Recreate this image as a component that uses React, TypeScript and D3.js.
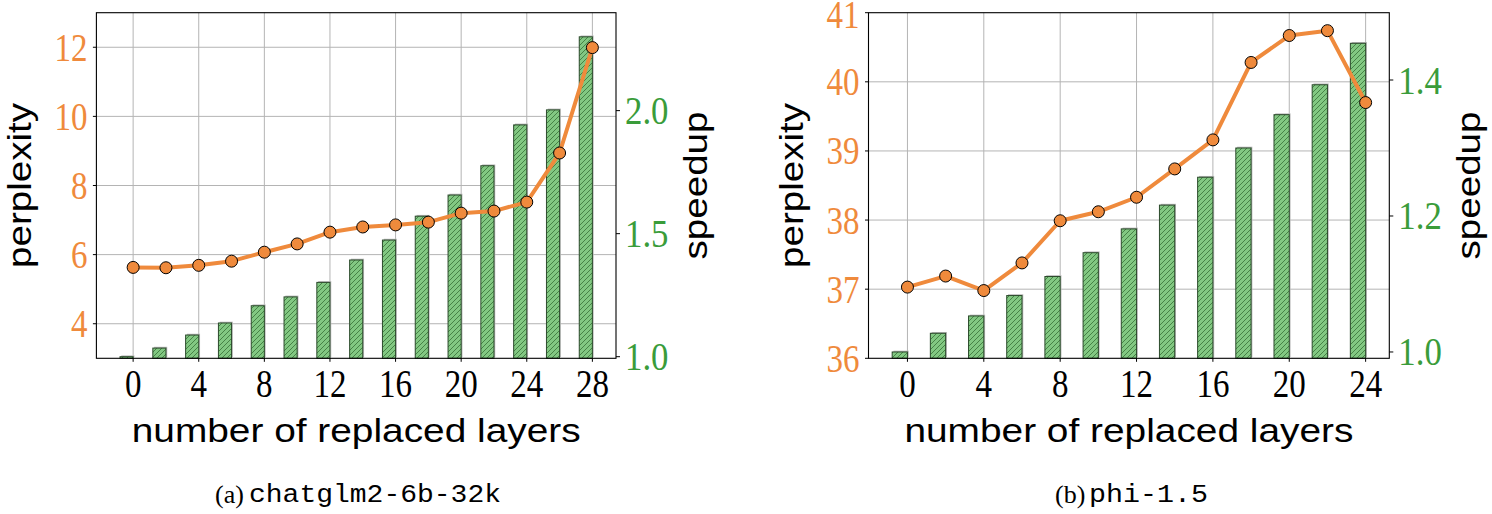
import React from "react";
import * as d3 from "d3";

// ---- data ----
const layersA = [0, 2, 4, 6, 8, 10, 12, 14, 16, 18, 20, 22, 24, 26, 28];
const perplexityA = [5.63, 5.62, 5.69, 5.81, 6.07, 6.31, 6.65, 6.8, 6.86, 6.94, 7.2, 7.26, 7.52, 8.94, 11.99];
const speedupA = [1.0, 1.035, 1.088, 1.137, 1.207, 1.243, 1.302, 1.393, 1.474, 1.571, 1.657, 1.776, 1.942, 2.003, 2.3];

const layersB = [0, 2, 4, 6, 8, 10, 12, 14, 16, 18, 20, 22, 24];
const perplexityB = [37.03, 37.19, 36.98, 37.38, 37.99, 38.12, 38.33, 38.74, 39.16, 40.28, 40.67, 40.74, 39.7];
const speedupB = [1.0, 1.0275, 1.053, 1.083, 1.111, 1.146, 1.181, 1.216, 1.257, 1.3, 1.349, 1.393, 1.454];

const xTicksA = [0, 4, 8, 12, 16, 20, 24, 28];
const pplTicksA = [4, 6, 8, 10, 12];
const spTicksA = [1.0, 1.5, 2.0];

const xTicksB = [0, 4, 8, 12, 16, 20, 24];
const pplTicksB = [36, 37, 38, 39, 40, 41];
const spTicksB = [1.0, 1.2, 1.4];

const xLabel = "number of replaced layers";
const yLabelLeft = "perplexity";
const yLabelRight = "speedup";
const captionA = ["(a)", "chatglm2-6b-32k"];
const captionB = ["(b)", "phi-1.5"];

// ---- styles ----
const ORANGE = "#ef8a3c";
const GREEN_TXT = "#3a9c3a";
const BAR_FILL = "#82c882";
const BAR_EDGE = "#2c4a2c";
const HATCH = "#3f7a3f";
const GRID = "#b4b4b4";
const SERIF = "'Liberation Serif', 'DejaVu Serif', serif";
const SANS = "'Liberation Sans', Arial, sans-serif";
const MONO = "'Liberation Mono', 'DejaVu Sans Mono', monospace";
const BAR_W = 0.8;

function numWidth(s: string) {
  let w = 0;
  for (const c of s) w += c === "." ? 10.5 : 16.5;
  return w;
}

type PanelProps = {
  id: string;
  frame: { l: number; r: number; t: number; b: number };
  layers: number[];
  ppl: number[];
  sp: number[];
  xTicks: number[];
  pplTicks: number[];
  spTicks: number[];
  pplDomain: [number, number];
  spDomain: [number, number];
  spFmt: (v: number) => string;
  caption: string[];
  captionX: number;
  monoLen: number;
};

function Panel(p: PanelProps) {
  const { frame } = p;
  const lo = (d3.min(p.layers) as number) - BAR_W;
  const hi = d3.max(p.layers) as number;
  const pad = (hi - lo) * 0.05;
  const x = d3.scaleLinear().domain([lo - pad, hi + pad]).range([frame.l, frame.r]);
  const yL = d3.scaleLinear().domain(p.pplDomain).range([frame.b, frame.t]);
  const yR = d3.scaleLinear().domain(p.spDomain).range([frame.b, frame.t]);
  const line = d3
    .line<number>()
    .x((_, i) => x(p.layers[i]))
    .y((d) => yL(d));
  const cx = (frame.l + frame.r) / 2;
  const cy = (frame.t + frame.b) / 2;

  return (
    <g>
      {/* grid */}
      {p.xTicks.map((t) => (
        <line key={"gx" + t} x1={x(t)} x2={x(t)} y1={frame.t} y2={frame.b} stroke={GRID} strokeWidth={1} />
      ))}
      {p.pplTicks
        .filter((t) => yL(t) > frame.t + 1 && yL(t) < frame.b - 1)
        .map((t) => (
          <line key={"gy" + t} x1={frame.l} x2={frame.r} y1={yL(t)} y2={yL(t)} stroke={GRID} strokeWidth={1} />
        ))}
      {/* bars */}
      {p.sp.map((v, i) => {
        const x0 = x(p.layers[i] - BAR_W);
        const x1 = x(p.layers[i]);
        const yt = yR(v);
        return (
          <g key={"b" + i}>
            <rect x={x0 + 1.3} y={yt - 1.3} width={x1 - x0} height={frame.b - yt} fill="#b9b9b9" />
            <rect x={x0} y={yt} width={x1 - x0} height={frame.b - yt} fill={BAR_FILL} />
            <rect x={x0} y={yt} width={x1 - x0} height={frame.b - yt} fill={`url(#hatch${p.id})`} stroke={BAR_EDGE} strokeWidth={1} />
          </g>
        );
      })}
      {/* frame */}
      <rect x={frame.l} y={frame.t} width={frame.r - frame.l} height={frame.b - frame.t} fill="none" stroke="#000" strokeWidth={1.1} />
      {/* x ticks */}
      {p.xTicks.map((t) => (
        <g key={"xt" + t}>
          <line x1={x(t)} x2={x(t)} y1={frame.b} y2={frame.b + 3.5} stroke="#000" strokeWidth={1} />
          <text
            x={x(t)}
            y={frame.b + 38.4}
            textAnchor="middle"
            fontFamily={SERIF}
            fontSize={40}
            textLength={numWidth(String(t))}
            lengthAdjust="spacingAndGlyphs"
            fill="#000"
          >
            {String(t)}
          </text>
        </g>
      ))}
      {/* left ticks */}
      {p.pplTicks.map((t) => (
        <g key={"lt" + t}>
          <line x1={frame.l - 3.5} x2={frame.l} y1={yL(t)} y2={yL(t)} stroke="#000" strokeWidth={1} />
          <text
            x={frame.l - 9}
            y={Math.max(yL(t) + 13.5, 27.5)}
            textAnchor="end"
            fontFamily={SERIF}
            fontSize={40}
            textLength={numWidth(String(t))}
            lengthAdjust="spacingAndGlyphs"
            fill={ORANGE}
          >
            {String(t)}
          </text>
        </g>
      ))}
      {/* right ticks */}
      {p.spTicks.map((t) => (
        <g key={"rt" + t}>
          <line x1={frame.r} x2={frame.r + 4} y1={yR(t)} y2={yR(t)} stroke="#000" strokeWidth={1} />
          <text
            x={frame.r + 9}
            y={yR(t) + 13.5}
            textAnchor="start"
            fontFamily={SERIF}
            fontSize={40}
            textLength={numWidth(p.spFmt(t))}
            lengthAdjust="spacingAndGlyphs"
            fill={GREEN_TXT}
          >
            {p.spFmt(t)}
          </text>
        </g>
      ))}
      {/* perplexity line */}
      <path d={line(p.ppl) || ""} fill="none" stroke={ORANGE} strokeWidth={4} strokeLinejoin="round" />
      {p.ppl.map((v, i) => (
        <circle key={"m" + i} cx={x(p.layers[i])} cy={yL(v)} r={6} fill={ORANGE} stroke="#000" strokeWidth={1} />
      ))}
      {/* axis labels */}
      <text
        x={cx}
        y={441.7}
        textAnchor="middle"
        fontFamily={SANS}
        fontSize={33}
        textLength={449}
        lengthAdjust="spacingAndGlyphs"
        fill="#000"
      >
        {xLabel}
      </text>
      <text
        transform={`translate(${frame.l - 65.5},${cy}) rotate(-90)`}
        textAnchor="middle"
        fontFamily={SANS}
        fontSize={33}
        textLength={165}
        lengthAdjust="spacingAndGlyphs"
        fill="#000"
      >
        {yLabelLeft}
      </text>
      <text
        transform={`translate(${frame.r + 91},${cy}) rotate(-90)`}
        textAnchor="middle"
        fontFamily={SANS}
        fontSize={33}
        textLength={148}
        lengthAdjust="spacingAndGlyphs"
        fill="#000"
      >
        {yLabelRight}
      </text>
      {/* caption */}
      <text x={p.captionX} y={503} fontFamily={SERIF} fontSize={26} fill="#000">
        {p.caption[0]}
      </text>
      <text
        x={p.captionX + 34}
        y={502}
        fontFamily={MONO}
        fontSize={26}
        textLength={p.monoLen}
        lengthAdjust="spacingAndGlyphs"
        fill="#000"
      >
        {p.caption[1]}
      </text>
    </g>
  );
}

export default function App() {
  const fmt = d3.format(".1f");
  return (
    <svg
      width={1492}
      height={514}
      viewBox="0 0 1492 514"
      style={{ position: "absolute", left: 0, top: 0, display: "block", background: "#fff" }}
    >
      <defs>
        {["A", "B"].map((id) => (
          <pattern key={id} id={`hatch${id}`} patternUnits="userSpaceOnUse" width={5} height={5}>
            <path d="M-1,1 l2,-2 M0,5 l5,-5 M4,6 l2,-2" stroke={HATCH} strokeWidth={0.9} />
          </pattern>
        ))}
      </defs>
      <rect x={0} y={0} width={1492} height={514} fill="#fff" />
      <Panel
        id="A"
        frame={{ l: 96.4, r: 616, t: 12.7, b: 358.3 }}
        layers={layersA}
        ppl={perplexityA}
        sp={speedupA}
        xTicks={xTicksA}
        pplTicks={pplTicksA}
        spTicks={spTicksA}
        pplDomain={[3, 13]}
        spDomain={[0.9935, 2.398]}
        spFmt={fmt}
        caption={captionA}
        captionX={215}
        monoLen={252}
      />
      <Panel
        id="B"
        frame={{ l: 868.5, r: 1389.3, t: 12.7, b: 358.3 }}
        layers={layersB}
        ppl={perplexityB}
        sp={speedupB}
        xTicks={xTicksB}
        pplTicks={pplTicksB}
        spTicks={spTicksB}
        pplDomain={[36, 41]}
        spDomain={[0.9907, 1.499]}
        spFmt={fmt}
        caption={captionB}
        captionX={1055}
        monoLen={119}
      />
    </svg>
  );
}
